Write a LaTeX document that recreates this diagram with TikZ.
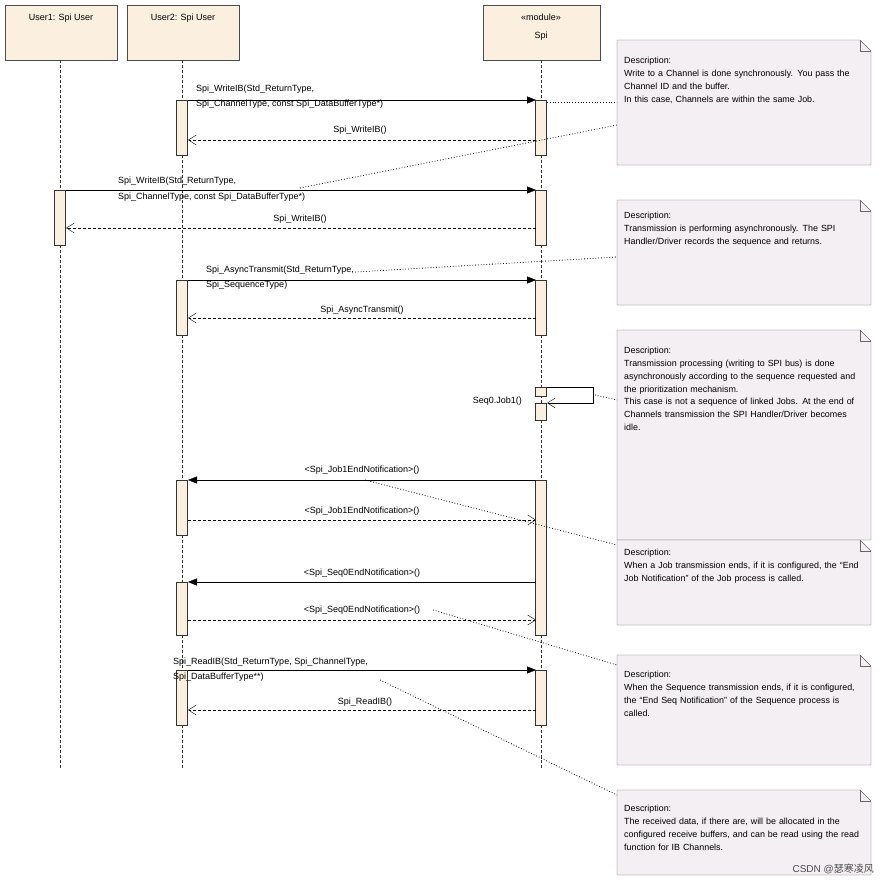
\documentclass[tikz,border=0pt]{standalone}
\usepackage{fontspec}
\setmainfont{Liberation Sans}
\newfontfamily\cjk{Noto Sans CJK SC}
\usetikzlibrary{arrows.meta}
\definecolor{hd}{HTML}{FBEFDF}
\definecolor{nt}{HTML}{F3EFF3}
\definecolor{act}{HTML}{FBEFDF}
\begin{document}
\begin{tikzpicture}[x=1pt,y=-1pt,font=\fontsize{9}{11}\selectfont,
 head/.style={draw=black!70,fill=hd,minimum width=112,minimum height=55,anchor=north west,inner sep=0},
 life/.style={densely dashed,black!80},
 act/.style={draw=black!80,fill=act},
 call/.style={-{Triangle[length=9,width=7]}},
 ret/.style={densely dashed,-{Straight Barb[length=8,width=10]}},
 lbl/.style={inner sep=0,anchor=west,align=left},
 clbl/.style={inner sep=0},
 lead/.style={dotted,black,thick},
 note/.style={draw=black!60,fill=nt}]
\useasboundingbox (0,0) rectangle (881,881);
\fill[white] (0,0) rectangle (881,881);
% heads
\node[head] (u1) at (5,5) {};
\node[anchor=north] at (61,10) {User1: Spi User};
\node[head] (u2) at (127,5) {};
\node[anchor=north] at (183,10) {User2: Spi User};
\node[head,minimum width=117] (sp) at (483,5) {};
\node[anchor=north] at (541,10) {«module»};
\node[anchor=north] at (541,28) {Spi};
% lifelines
\draw[life] (60,60) -- (60,768);
\draw[life] (182,60) -- (182,768);
\draw[life] (541,60) -- (541,768);
% activations
\foreach \x/\a/\b in {182/100/155,541/100/155,60/190/245,541/190/245,182/280/335,541/280/335,541/480/635,182/480/535,182/582/635,182/670/725,541/670/725}
 \draw[act] (\x-5.5,\a) rectangle (\x+5.5,\b);
\draw[act] (541-5.5,387) rectangle (541+5.5,396);
\draw[act] (541-5.5,403) rectangle (541+5.5,420);
% messages
\coordinate (a1) at (188,100); \coordinate (b1) at (536,100);
\draw[call] (a1) -- (b1);
\node[lbl] at (196,89) {Spi\_WriteIB(Std\_ReturnType,};
\node[lbl] at (196,104) {Spi\_ChannelType, const Spi\_DataBufferType*)};
\coordinate (a1r) at (536,140); \coordinate (b1r) at (188,140);
\draw[ret] (a1r) -- (b1r); \node[clbl] at (360,130) {Spi\_WriteIB()};
\coordinate (a2) at (66,190); \coordinate (b2) at (536,190);
\draw[call] (a2) -- (b2);
\node[lbl] at (118,181) {Spi\_WriteIB(Std\_ReturnType,};
\node[lbl] at (118,197) {Spi\_ChannelType, const Spi\_DataBufferType*)};
\coordinate (a2r) at (536,228); \coordinate (b2r) at (66,228);
\draw[ret] (a2r) -- (b2r); \node[clbl] at (300,219) {Spi\_WriteIB()};
\coordinate (a3) at (188,280); \coordinate (b3) at (536,280);
\draw[call] (a3) -- (b3);
\node[lbl] at (206,270) {Spi\_AsyncTransmit(Std\_ReturnType,};
\node[lbl] at (206,285) {Spi\_SequenceType)};
\coordinate (a3r) at (536,318); \coordinate (b3r) at (188,318);
\draw[ret] (a3r) -- (b3r); \node[clbl] at (362,310) {Spi\_AsyncTransmit()};
\coordinate (s1) at (547,387); \coordinate (s2) at (547,403);
\draw[-{Straight Barb[length=8,width=10]}] (s1) -- (593,387) -- (593,403) -- (s2);
\node[inner sep=0,anchor=east] at (522,401) {Seq0.Job1()};
\coordinate (a4) at (536,480); \coordinate (b4) at (188,480);
\draw[call] (a4) -- (b4); \node[clbl] at (362,470) {<Spi\_Job1EndNotification>()};
\coordinate (a4r) at (188,520); \coordinate (b4r) at (536,520);
\draw[ret] (a4r) -- (b4r); \node[clbl] at (362,511) {<Spi\_Job1EndNotification>()};
\coordinate (a5) at (536,582); \coordinate (b5) at (188,582);
\draw[call] (a5) -- (b5); \node[clbl] at (362,573) {<Spi\_Seq0EndNotification>()};
\coordinate (a5r) at (188,620); \coordinate (b5r) at (536,620);
\draw[ret] (a5r) -- (b5r); \node[clbl] at (362,610) {<Spi\_Seq0EndNotification>()};
\coordinate (a6) at (188,670); \coordinate (b6) at (536,670);
\draw[call] (a6) -- (b6);
\node[lbl] at (173,662) {Spi\_ReadIB(Std\_ReturnType, Spi\_ChannelType,};
\node[lbl] at (173,677) {Spi\_DataBufferType**)};
\coordinate (a6r) at (536,710); \coordinate (b6r) at (188,710);
\draw[ret] (a6r) -- (b6r); \node[clbl] at (365,702) {Spi\_ReadIB()};
% notes
\foreach \n/\t/\b in {n1/40/165,n2/200/305,n3/330/540,n4/540/625,n5/655/765,n6/790/875}{
 \draw[note] (617,\t) -- (860,\t) -- (871,\t+11) -- (871,\b) -- (617,\b) -- cycle;
 \draw[black!60] (860,\t) -- (860,\t+11) -- (871,\t+11);
 \coordinate (\n) at (617,\t);}
\tikzset{nt/.style={anchor=north west,inner sep=0,align=left,text width=238,font=\fontsize{8.9}{12.8}\selectfont,
  execute at begin node={\hyphenpenalty=10000 \exhyphenpenalty=10000 }}}
\node[nt] at (624,57) {Description:\\Write to a Channel is done synchronously. You pass the Channel ID and the buffer.\\In this case, Channels are within the same Job.};
\node[nt] at (624,212) {Description:\\Transmission is performing asynchronously. The SPI Handler/Driver records the sequence and returns.};
\node[nt] at (624,347) {Description:\\Transmission processing (writing to SPI bus) is done asynchronously according to the sequence requested and the prioritization mechanism.\\This case is not a sequence of linked Jobs. At the end of Channels transmission the SPI Handler/Driver becomes idle.};
\node[nt] at (624,549) {Description:\\When a Job transmission ends, if it is configured, the “End Job Notification” of the Job process is called.};
\node[nt] at (624,671) {Description:\\When the Sequence transmission ends, if it is configured, the “End Seq Notification” of the Sequence process is called.};
\node[nt] at (624,805) {Description:\\The received data, if there are, will be allocated in the configured receive buffers, and can be read using the read function for IB Channels.};
% leaders
\draw[lead] (547,102) -- (617,102);
\draw[lead] (300,188) -- (617,125);
\draw[lead] (355,272) -- (617,257);
\draw[lead] (595,395) -- (617,400);
\draw[lead] (365,480) -- (617,545);
\draw[lead] (433,610) -- (617,665);
\draw[lead] (380,680) -- (617,795);
\node[anchor=south east,inner sep=2,font=\fontsize{10}{12}\selectfont,text=black!70] at (876,876) {CSDN @{\cjk 瑟寒凌风}};
\end{tikzpicture}
\end{document}
